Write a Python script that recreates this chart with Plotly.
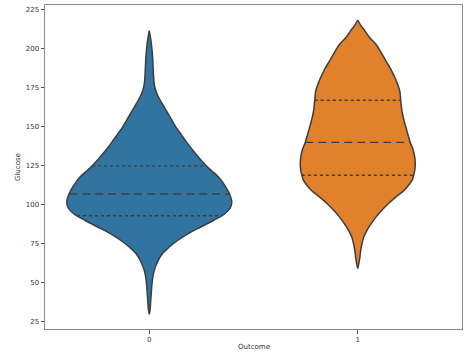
import numpy as np
import plotly.graph_objects as go

# ---- data ----
categories = ["0", "1"]

# Outcome 0: glucose grid and violin half-width (px at 208.5 px per category)
glucose_0 = [211.6, 206, 201, 193, 186, 179, 175, 171, 167, 162, 156, 150, 145, 140, 135,
             130, 125.7, 122, 118, 113, 108, 102, 98, 94, 90, 86, 81.6, 77.5, 73, 69,
             64.5, 60, 56, 51, 47.5, 43, 39, 34, 29.8]
halfw_px_0 = [0, 1.5, 2.5, 3.5, 4, 4.7, 5.7, 7.8, 11, 15.5, 21, 26.5, 32, 37.5, 43.5,
              50, 56, 62, 69, 75, 79.5, 82.5, 81, 75, 64, 52, 39, 29, 20, 13.5,
              9, 6, 4.2, 3, 2.5, 2, 1.5, 1, 0]

# Outcome 1
glucose_1 = [218.4, 215, 211.6, 207, 203, 198, 192.4, 187, 181.7, 177, 173, 167, 161, 156,
             150, 145.5, 140, 135, 130.6, 126.3, 122, 119.3, 116, 113.5, 109, 105, 101,
             96.5, 92, 88, 84, 79.4, 75, 71, 66, 62, 59.2]
halfw_px_1 = [0, 3, 7, 12, 18, 23, 28, 33, 37, 40, 42, 43, 44, 45.5,
              48, 50, 52.5, 55.5, 57, 57.5, 57, 56, 54.5, 52, 46, 38, 31,
              24, 18, 13.5, 9.5, 6, 4.2, 3, 2, 1, 0]

# quartiles (Q1, median, Q3)
quartiles_0 = [93, 107, 125]
quartiles_1 = [119, 140, 167]

PX_PER_CAT = 208.5
colors = ["#3274a1", "#e1812c"]
edge = "#3d3d3d"
text_color = "#333333"

fig = go.Figure()
series = [
    (glucose_0, halfw_px_0, quartiles_0),
    (glucose_1, halfw_px_1, quartiles_1),
]
for i, (g, hw, qs) in enumerate(series):
    g = np.array(g, dtype=float)
    w = np.array(hw, dtype=float) / PX_PER_CAT
    xs = np.concatenate([i - w, (i + w)[::-1], [i - w[0]]])
    ys = np.concatenate([g, g[::-1], [g[0]]])
    fig.add_trace(go.Scatter(
        x=xs, y=ys, mode="lines", fill="toself", fillcolor=colors[i],
        line=dict(color=edge, width=1.5, shape="spline", smoothing=1.1),
        hoverinfo="skip", showlegend=False))
    order = np.argsort(g)
    for k, q in enumerate(qs):
        qw = float(np.interp(q, g[order], w[order]))
        dash = "8px,5px" if k == 1 else "3px,3px"
        fig.add_trace(go.Scatter(
            x=[i - qw, i + qw], y=[q, q], mode="lines",
            line=dict(color=edge, width=1.4, dash=dash),
            hoverinfo="skip", showlegend=False))

axis_common = dict(
    showline=True, linecolor="#8a8a8a", linewidth=1, mirror=True,
    showgrid=False, zeroline=False, automargin=False,
    ticks="outside", ticklen=3.5, tickwidth=1, tickcolor="#555555",
    tickfont=dict(family="DejaVu Sans", size=7, color=text_color),
)

fig.update_layout(
    width=474, height=356,
    margin=dict(l=45, r=12, t=5, b=27),
    paper_bgcolor="white", plot_bgcolor="white",
    font=dict(family="DejaVu Sans", size=7, color=text_color),
    xaxis=dict(range=[-0.5, 1.5], tickvals=[0, 1], ticktext=categories, **axis_common),
    yaxis=dict(range=[20.5, 228], tickvals=[25, 50, 75, 100, 125, 150, 175, 200, 225],
               **axis_common),
    annotations=[
        dict(text="Outcome", xref="paper", yref="paper", x=0.5, y=0,
             xanchor="center", yanchor="middle", yshift=-18, showarrow=False,
             font=dict(family="DejaVu Sans", size=7, color=text_color)),
        dict(text="Glucose", xref="paper", yref="paper", x=0, y=0.5,
             xanchor="center", yanchor="middle", xshift=-27, textangle=-90,
             showarrow=False,
             font=dict(family="DejaVu Sans", size=7, color=text_color)),
    ],
)

fig.write_html("out.html",
               config={"displayModeBar": False, "staticPlot": True},
               post_script="document.body.style.margin='0';document.body.style.overflow='hidden';")
